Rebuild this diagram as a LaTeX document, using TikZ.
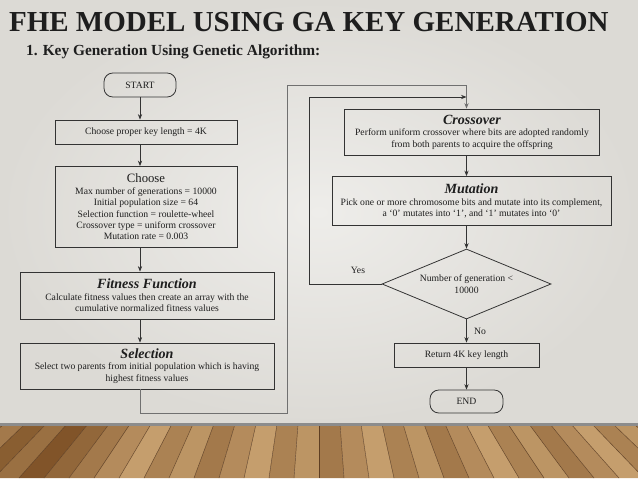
\documentclass[tikz,border=0pt]{standalone}
\usepackage{fontspec}
\setmainfont{Liberation Serif}
\usetikzlibrary{arrows.meta,positioning,shapes.geometric}
\definecolor{gaInk}{HTML}{1E1E1E}
\definecolor{gaLine}{HTML}{333333}
\definecolor{gaLoop}{HTML}{707070}
\definecolor{gaWall}{HTML}{DCDAD5}
\definecolor{gaWallLight}{HTML}{EEEDEA}
\definecolor{gaWood}{HTML}{9E7446}
\definecolor{gaWoodDark}{HTML}{5E3E22}
\definecolor{gaWoodLight}{HTML}{CDA775}
\newcommand{\gahead}[1]{{\fontsize{16}{18}\selectfont\bfseries\itshape #1}}
\tikzset{
  every picture/.style={font=\fontsize{11}{13}\selectfont, text=gaInk},
  ga box/.style={draw=gaLine, line width=0.9pt, align=center, inner sep=0pt},
  ga term/.style={ga box, rounded corners=10pt},
  ga arrow/.style={-{Stealth[length=2.2mm,width=1.7mm]},
    draw=gaLine, line width=0.8pt},
  ga plank/.style={draw=gaWoodDark, line width=0.5pt}
}

\begin{document}
\begin{tikzpicture}[x=0.4mm,y=-0.4mm]
  \useasboundingbox (0,0) rectangle (638,478);
  % wall and floor
  \shade[inner color=gaWallLight, outer color=gaWall] (0,0) rectangle (638,424);
  \foreach \i [evaluate=\i as \sh using {mod(\i*7+70,5)*18+10}] in {-16,...,15}
    \fill[gaWoodLight!\sh!gaWood] (319+\i*21,424) -- (319+\i*21+21,424)
      -- (319+\i*25+25,478) -- (319+\i*25,478) -- cycle;
  \foreach \i in {-16,...,16}
    \draw[ga plank] (319+\i*21,424) -- (319+\i*25,478);
  \fill[black!45] (0,423) rectangle (638,426);

  % titles
  \node[font=\fontsize{33}{36}\selectfont\bfseries, anchor=west] (title) at (6,22)
    {FHE MODEL USING GA KEY GENERATION};
  \node[font=\fontsize{17.5}{20}\selectfont\bfseries, anchor=west] (sub) at (23,52)
    {1. Key Generation Using Genetic Algorithm:};

  % left column
  \node[ga term, minimum width=28.8mm, minimum height=9.6mm] (start) at (140,85) {START};
  \node[ga box, minimum width=72.8mm, minimum height=9.6mm] (keylen) at (146,132)
    {Choose proper key length = 4K};
  \node[ga box, minimum width=72.8mm, minimum height=32.4mm] (choose) at (146,207)
    {{\fontsize{14.5}{16}\selectfont Choose}\\
     Max number of generations = 10000\\
     Initial population size = 64\\
     Selection function = roulette-wheel\\
     Crossover type = uniform crossover\\
     Mutation rate = 0.003};
  \node[ga box, minimum width=101.6mm, minimum height=18.8mm] (fit) at (147,295.5)
    {\gahead{Fitness Function}\\
     Calculate fitness values then create an array with the\\
     cumulative normalized fitness values};
  \node[ga box, minimum width=101.6mm, minimum height=18.4mm] (sel) at (147,366)
    {\gahead{Selection}\\
     Select two parents from initial population which is having\\
     highest fitness values};

  % right column
  \node[ga box, minimum width=102mm, minimum height=18.4mm] (cross) at (472,132)
    {\gahead{Crossover}\\
     Perform uniform crossover where bits are adopted randomly\\
     from both parents to acquire the offspring};
  \node[ga box, minimum width=111.6mm, minimum height=19.6mm] (mut) at (471.5,201)
    {\gahead{Mutation}\\
     Pick one or more chromosome bits and mutate into its complement,\\
     a `0' mutates into `1', and `1' mutates into `0'};
  \node[ga box, shape=diamond, minimum width=67.6mm, minimum height=28mm,
    label={[align=center]center:Number of generation <\\10000}] (dec) at (466.5,284) {};
  \node[ga box, minimum width=58mm, minimum height=9.6mm] (ret) at (466.5,355)
    {Return 4K key length};
  \node[ga term, minimum width=29.2mm, minimum height=9.2mm] (end) at (466.5,401.5) {END};

  \coordinate (outA) at (287,413);
  \coordinate (outB) at (287,85);
  \coordinate (inA) at (309,284);
  \coordinate (inB) at (309,97);

  % connectors
  \draw[ga arrow] (start) -- (start |- keylen.north);
  \draw[ga arrow] (start |- keylen.south) -- (start |- choose.north);
  \draw[ga arrow] (start |- choose.south) -- (start |- fit.north);
  \draw[ga arrow] (start |- fit.south) -- (start |- sel.north);
  \draw[ga arrow, draw=gaLoop] (start |- sel.south) -- (start |- outA) -- (outA)
    -- (outB) -- (dec |- outB) -- (dec |- cross.north);
  \draw[ga arrow] (dec |- cross.south) -- (dec |- mut.north);
  \draw[ga arrow] (dec |- mut.south) -- (dec.north);
  \draw[ga arrow] (dec.west) -- (inA) -- (inB) -- (dec |- inB);
  \draw[ga arrow] (dec.south) -- (ret.north) node[midway, right=5pt] {No};
  \draw[ga arrow] (ret) -- (end);
  \node (yes) at (358,270) {Yes};
\end{tikzpicture}
\end{document}
